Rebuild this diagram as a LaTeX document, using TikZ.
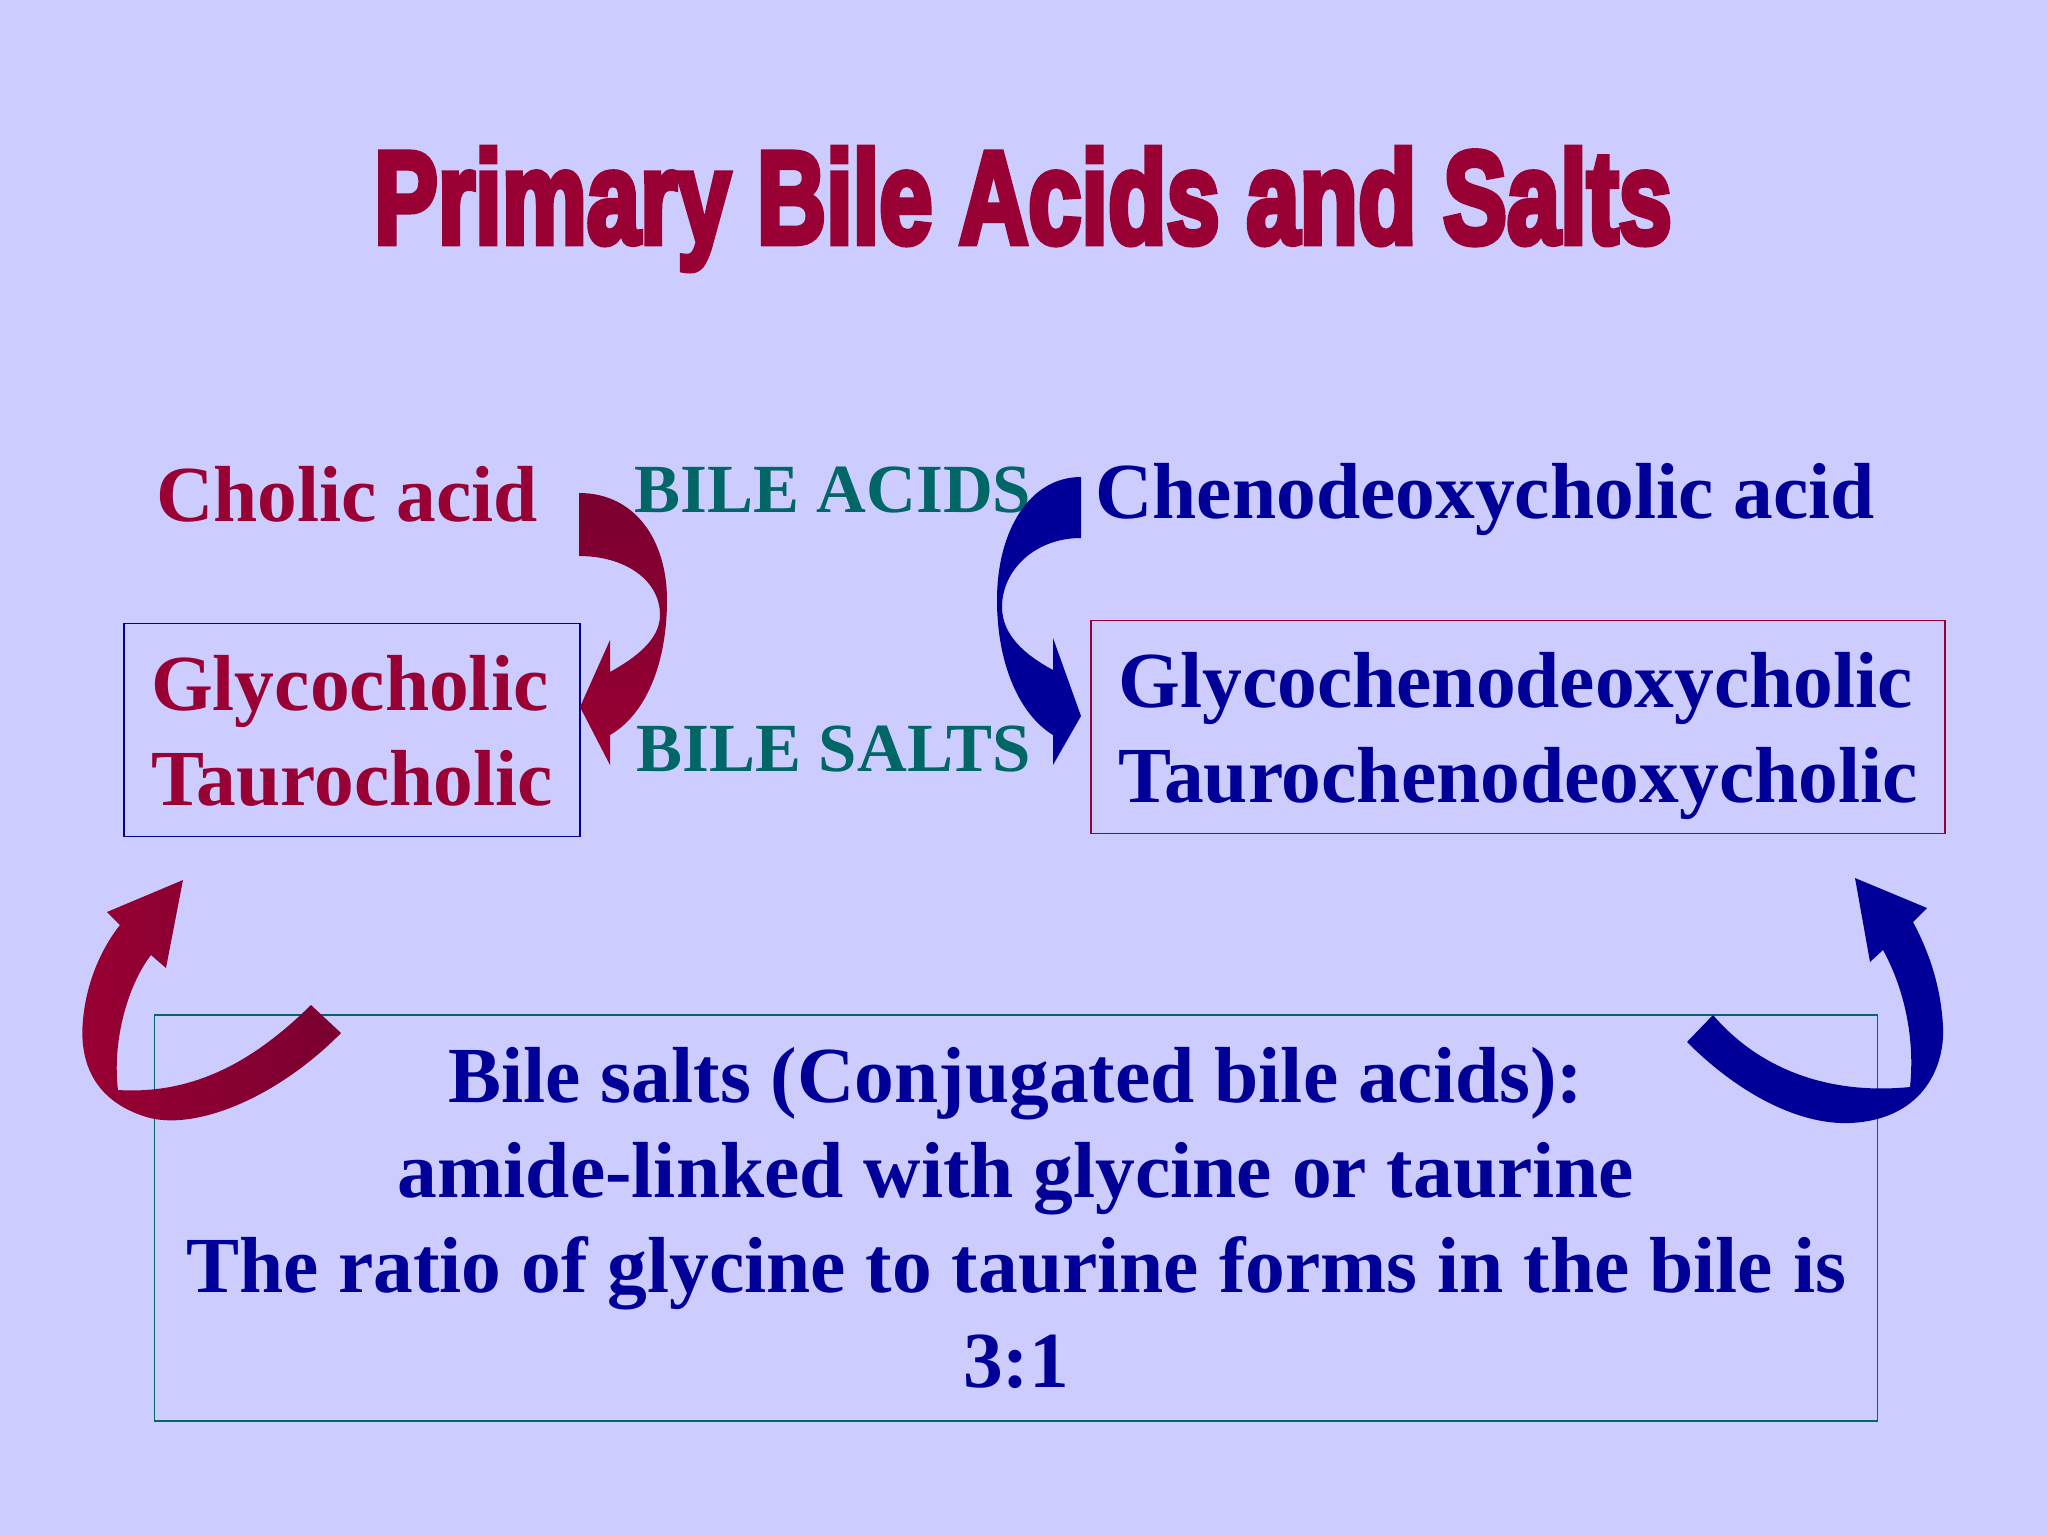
\documentclass[tikz,border=0pt]{standalone}
\usepackage{fontspec}
\setmainfont{Liberation Serif}
\newfontfamily\titlefont{Liberation Sans}[BoldFeatures={FakeBold=5}]
\usepackage{tikz}

\definecolor{bg}{HTML}{CCCCFF}
\definecolor{crimson}{HTML}{990033}
\definecolor{maroon}{HTML}{7A0030}
\definecolor{navy}{HTML}{000099}
\definecolor{bileteal}{HTML}{006666}

\tikzset{
  bigtext/.style={font=\fontsize{22.6}{27}\selectfont\bfseries},
  tagtext/.style={font=\fontsize{19.6}{24}\selectfont\bfseries, text=bileteal},
  listbox/.style={draw, line width=0.5pt, bigtext, align=left, text depth=0pt, minimum height=2.13cm},
}

\begin{document}
\begin{tikzpicture}[x=0.01cm, y=-0.01cm]
\useasboundingbox (0,0) rectangle (2048,1536);
\fill[bg] (0,0) rectangle (2048,1536);

\node[anchor=base, text=crimson] (title) at (1023,243) {\resizebox{12.97cm}{0.95cm}{\titlefont\bfseries Primary Bile Acids and Salts}};

% acids on top
\node[bigtext, text=crimson, anchor=base] (cholic) at (347,521) {Cholic acid};
\node[bigtext, text=navy, anchor=base] (cheno) at (1485,518) {Chenodeoxycholic acid};
\node[tagtext, anchor=base] (acids) at (833,512) {BILE ACIDS};
\node[tagtext, anchor=base] (salts) at (834,771) {BILE SALTS};

% the conjugated salts
\node[listbox, draw=navy, text=crimson, minimum width=4.55cm] (glyco) at (352,730)
  {Glycocholic\\Taurocholic};
\node[listbox, draw=crimson, text=navy, minimum width=8.53cm] (glycocheno) at (1518,727)
  {Glycochenodeoxycholic\\Taurochenodeoxycholic};

\node[draw=bileteal, line width=0.5pt, bigtext, text=navy, align=center,
  minimum width=17.22cm, minimum height=4.06cm] (note) at (1016,1218)
  {Bile salts (Conjugated bile acids):\\amide-linked with glycine or taurine\\
   The ratio of glycine to taurine forms in the bile is\\3:1};

% curved arrows
\shade[top color=maroon, bottom color=crimson]
  (579,493) .. controls (635,493) and (667,540) .. (667,600)
  .. controls (667,665) and (645,715) .. (610,735)
  -- (610,765) -- (580,707) -- (610,640) -- (610,672)
  .. controls (635,658) and (660,640) .. (660,615)
  .. controls (660,580) and (625,556) .. (579,556) -- cycle;
\fill[navy]
  (1081,477) .. controls (1030,477) and (997,530) .. (997,600)
  .. controls (997,665) and (1020,715) .. (1053,735)
  -- (1053,765) -- (1081,716) -- (1053,638) -- (1053,670)
  .. controls (1025,655) and (1002,635) .. (1002,607)
  .. controls (1002,570) and (1035,538) .. (1081,538) -- cycle;
\shade[left color=crimson, right color=maroon]
  (341,1033) .. controls (280,1095) and (200,1130) .. (150,1118)
  .. controls (85,1100) and (80,1050) .. (83,1020)
  .. controls (86,985) and (100,950) .. (120,925)
  -- (107,912) -- (183,880) -- (166,968) -- (151,955)
  .. controls (128,985) and (112,1040) .. (118,1090)
  .. controls (200,1095) and (260,1055) .. (311,1005) -- cycle;
\fill[navy]
  (1687,1042) .. controls (1740,1095) and (1800,1125) .. (1850,1123)
  .. controls (1920,1120) and (1945,1070) .. (1943,1027)
  .. controls (1941,985) and (1928,950) .. (1913,922)
  -- (1927,908) -- (1855,878) -- (1870,962) -- (1883,950)
  .. controls (1905,990) and (1915,1040) .. (1910,1087)
  .. controls (1830,1095) and (1760,1070) .. (1713,1015) -- cycle;
\end{tikzpicture}
\end{document}
